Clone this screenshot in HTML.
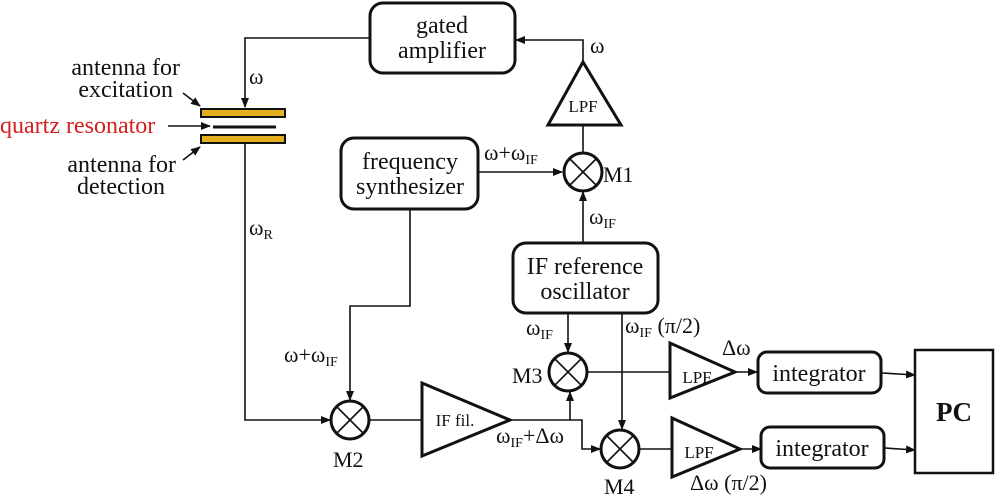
<!DOCTYPE html>
<html><head><meta charset="utf-8"><style>
html,body{margin:0;padding:0;background:#fff;}
svg{display:block;font-family:"Liberation Serif",serif;}
text{fill:#111;}
</style></head><body>
<svg width="996" height="497" viewBox="0 0 996 497" xmlns="http://www.w3.org/2000/svg">
<defs>
<marker id="a" markerWidth="10" markerHeight="10" refX="9" refY="5" orient="auto" markerUnits="userSpaceOnUse">
<path d="M0,1 L10,5 L0,9 Z" fill="#111"/></marker>
</defs>
<g stroke="#111" fill="none" stroke-width="1.6">
<polyline points="369,38 245,38 245,107" marker-end="url(#a)"/>
<polyline points="245,143 245,420 330,420" marker-end="url(#a)"/>
<polyline points="410,209 410,306 350,306 350,400" marker-end="url(#a)"/>
<line x1="478" y1="172" x2="562" y2="172" marker-end="url(#a)"/>
<line x1="583" y1="153" x2="583" y2="125"/>
<polyline points="583,62 583,40 516,40" marker-end="url(#a)"/>
<line x1="583" y1="243" x2="583" y2="192" marker-end="url(#a)"/>
<line x1="568" y1="313" x2="568" y2="352" marker-end="url(#a)"/>
<line x1="622" y1="313" x2="622" y2="429" marker-end="url(#a)"/>
<line x1="369" y1="420" x2="422" y2="420"/>
<polyline points="510,420 582,420 582,449 600,449" marker-end="url(#a)"/>
<line x1="570" y1="420" x2="570" y2="392" marker-end="url(#a)"/>
<line x1="587" y1="372" x2="670" y2="372"/>
<line x1="639" y1="449" x2="672" y2="449"/>
<line x1="735" y1="372" x2="757" y2="372" marker-end="url(#a)"/>
<line x1="740" y1="449" x2="761" y2="449" marker-end="url(#a)"/>
<line x1="882" y1="373" x2="915" y2="375" marker-end="url(#a)"/>
<line x1="885" y1="448" x2="915" y2="450" marker-end="url(#a)"/>
<line x1="183" y1="93" x2="200" y2="106" marker-end="url(#a)"/>
<line x1="168" y1="126" x2="210" y2="126" marker-end="url(#a)"/>
<line x1="183" y1="160" x2="200" y2="147" marker-end="url(#a)"/>
</g>
<rect x="201" y="109" width="84" height="8" fill="#e3b020" stroke="#111" stroke-width="2"/>
<line x1="213" y1="127" x2="276" y2="127" stroke="#111" stroke-width="3"/>
<rect x="201" y="135" width="84" height="8" fill="#e3b020" stroke="#111" stroke-width="2"/>
<g stroke="#111" stroke-width="3" fill="#fff">
<rect x="370" y="3" width="145" height="70" rx="13"/>
<rect x="341" y="138" width="137" height="71" rx="13"/>
<rect x="513" y="243" width="145" height="70" rx="13"/>
<rect x="758" y="352" width="123" height="41" rx="9"/>
<rect x="761" y="427" width="123" height="41" rx="9"/>
<rect x="915" y="350" width="78" height="123" stroke-width="2.5"/>
<polygon points="583,62 548,125 621,125"/>
<polygon points="422,383 422,456 510,420"/>
<polygon points="670,343 670,398 735,372"/>
<polygon points="672,418 672,477 740,449"/>
</g>
<g stroke="#111" stroke-width="3" fill="#fff">
<circle cx="583" cy="172" r="19"/>
<circle cx="350" cy="420" r="19"/>
<circle cx="568" cy="372" r="19"/>
<circle cx="620" cy="449" r="19"/>
</g>
<g stroke="#111" stroke-width="1.6">
<path d="M570,159 L596,185 M596,159 L570,185"/>
<path d="M337,407 L363,433 M363,407 L337,433"/>
<path d="M555,359 L581,385 M581,359 L555,385"/>
<path d="M607,436 L633,462 M633,436 L607,462"/>
</g>
<g font-size="24" text-anchor="middle">
<text x="442" y="33">gated</text><text x="442" y="58">amplifier</text>
<text x="410" y="169">frequency</text><text x="410" y="194">synthesizer</text>
<text x="585" y="274">IF reference</text><text x="585" y="299">oscillator</text>
<text x="819" y="381">integrator</text><text x="822" y="456">integrator</text>
<text x="954" y="421" font-weight="bold" font-size="27">PC</text>
</g>
<g font-size="24" text-anchor="end">
<text x="180" y="75">antenna for</text>
<text x="173" y="97">excitation</text>
<text x="176" y="172">antenna for</text>
<text x="165" y="194">detection</text>
</g>
<text x="0" y="133" font-size="24" style="fill:#d42020">quartz resonator</text>
<g font-size="17" text-anchor="middle">
<text x="583" y="112">LPF</text>
<text x="455" y="426">IF fil.</text>
<text x="697" y="383">LPF</text>
<text x="699" y="458">LPF</text>
</g>
<g font-size="22">
<text x="249" y="84">ω</text>
<text x="590" y="53">ω</text>
<text x="249" y="235">ω<tspan font-size="14" dy="4">R</tspan></text>
<text x="484" y="160">ω+ω<tspan font-size="14" dy="4">IF</tspan></text>
<text x="589" y="224">ω<tspan font-size="14" dy="4">IF</tspan></text>
<text x="284" y="362">ω+ω<tspan font-size="14" dy="4">IF</tspan></text>
<text x="526" y="335">ω<tspan font-size="14" dy="4">IF</tspan></text>
<text x="625" y="333">ω<tspan font-size="14" dy="4">IF</tspan><tspan dy="-4"> (π/2)</tspan></text>
<text x="496" y="443">ω<tspan font-size="14" dy="4">IF</tspan><tspan dy="-4">+Δω</tspan></text>
<text x="722" y="355">Δω</text>
<text x="690" y="490">Δω (π/2)</text>
<text x="603" y="182">M1</text>
<text x="512" y="383">M3</text>
<text x="333" y="467">M2</text>
<text x="604" y="494">M4</text>
</g>
</svg>
</body></html>
